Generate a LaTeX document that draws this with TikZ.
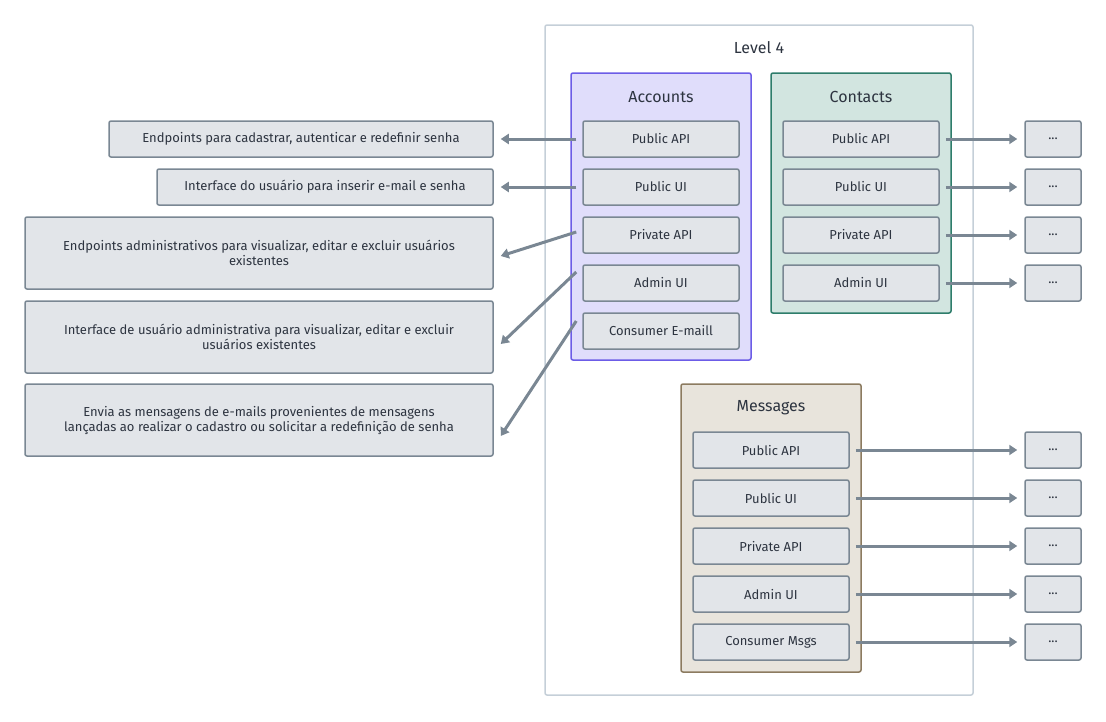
\documentclass[tikz,border=0pt]{standalone}
\usepackage{fontspec}
\setmainfont{Fira Sans}
\usetikzlibrary{arrows.meta}
\definecolor{boxfill}{HTML}{E2E5E9}
\definecolor{boxline}{HTML}{7A8793}
\definecolor{accfill}{HTML}{E0DDFB}
\definecolor{accline}{HTML}{6C5CE7}
\definecolor{confill}{HTML}{D2E5E0}
\definecolor{conline}{HTML}{2E7D6B}
\definecolor{msgfill}{HTML}{E8E4DC}
\definecolor{msgline}{HTML}{8C7B60}
\definecolor{lvline}{HTML}{C5CFD8}
\definecolor{txt}{HTML}{2D3440}
\tikzset{
	item/.style={draw=boxline,fill=boxfill,line width=1.5pt,rounded corners=2pt,minimum width=156pt,minimum height=36pt,font=\fontsize{13}{15}\selectfont,text=txt,inner sep=0pt},
	dots/.style={item,minimum width=56pt},
	desc/.style={item,align=center,minimum height=36pt},
	link/.style={draw=boxline,line width=3pt,-{Triangle[length=8pt,width=10pt]}},
	group/.style={line width=1.5pt,rounded corners=2pt},
	title/.style={font=\fontsize{16}{18}\selectfont,text=txt}
}
\begin{document}
\begin{tikzpicture}[x=1pt,y=-1pt]
		\useasboundingbox (0,0) rectangle (1106,721);
		% level 4
		\draw[lvline,line width=1.5pt,rounded corners=2pt] (545,25) rectangle (973,695);
		\node[title] (lv) at (759,48) {Level 4};
		
		% groups
		\draw[group,draw=accline,fill=accfill] (571,73) rectangle (751,360);
		\node[title] (acc) at (661,97) {Accounts};
		\draw[group,draw=conline,fill=confill] (771,73) rectangle (951,313);
		\node[title] (con) at (861,97) {Contacts};
		\draw[group,draw=msgline,fill=msgfill] (681,384) rectangle (861,672);
		\node[title] (msg) at (771,408) {Messages};
		
		% accounts
		\node[item] (a1) at (661,139) {Public API};
		\node[item] (a2) at (661,187) {Public UI};
		\node[item] (a3) at (661,235) {Private API};
		\node[item] (a4) at (661,283) {Admin UI};
		\node[item] (a5) at (661,331) {Consumer E-maill};
		
		\node[desc,minimum width=384pt] (d1) at (301,139) {Endpoints para cadastrar, autenticar e redefinir senha};
		\node[desc,minimum width=336pt] (d2) at (325,187) {Interface do usuário para inserir e-mail e senha};
		\node[desc,minimum width=468pt,minimum height=72pt] (d3) at (259,253) {Endpoints administrativos para visualizar, editar e excluir usuários\\existentes};
		\node[desc,minimum width=468pt,minimum height=72pt] (d4) at (259,337) {Interface de usuário administrativa para visualizar, editar e excluir\\usuários existentes};
		\node[desc,minimum width=468pt,minimum height=72pt] (d5) at (259,420) {Envia as mensagens de e-mails provenientes de mensagens\\lançadas ao realizar o cadastro ou solicitar a redefinição de senha};
		
		\draw[link] ([xshift=-6pt]a1.west) -- ([xshift=7pt]d1.east);
		\draw[link] ([xshift=-6pt]a2.west) -- ([xshift=7pt]d2.east);
		\draw[link] ([xshift=-6pt,yshift=3pt]a3.west) -- ([xshift=7pt,yshift=-3pt]d3.east);
		\draw[link] ([xshift=-6pt,yshift=11pt]a4.west) -- ([xshift=7pt,yshift=-7pt]d4.east);
		\draw[link] ([xshift=-6pt,yshift=10pt]a5.west) -- ([xshift=7pt,yshift=-16pt]d5.east);
		
		% contacts
		\foreach \t [count=\i] in {Public API,Public UI,Private API,Admin UI} {
			\node[item] (c\i) at (861,91+48*\i) {\t};
			\node[dots] (cd\i) at (1053,91+48*\i) {...};
			\draw[link] ([xshift=6pt]c\i.east) -- ([xshift=-7pt]cd\i.west);
		}
		
		% messages
		\foreach \t [count=\i] in {Public API,Public UI,Private API,Admin UI,Consumer Msgs} {
			\node[item] (m\i) at (771,402+48*\i) {\t};
			\node[dots] (md\i) at (1053,402+48*\i) {...};
			\draw[link] ([xshift=6pt]m\i.east) -- ([xshift=-7pt]md\i.west);
		}
\end{tikzpicture}
\end{document}
